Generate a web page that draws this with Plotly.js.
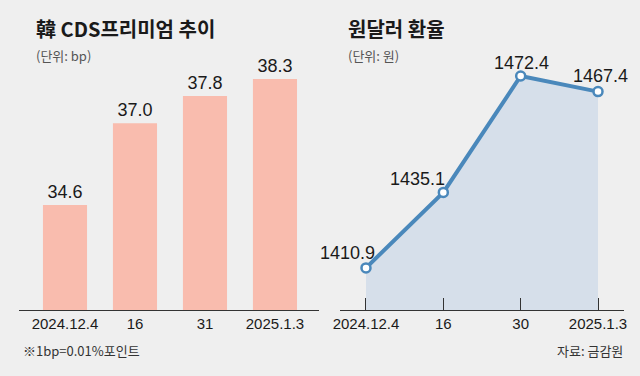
<!DOCTYPE html>
<html>
<head>
<meta charset="utf-8">
<script src="https://cdn.plot.ly/plotly-3.0.1.min.js"></script>
<style>
html,body{margin:0;padding:0;background:#efefef;}
#chart{width:640px;height:376px;}
</style>
</head>
<body>
<div id="chart"></div>
<script>
// Left chart: Korea CDS premium (bp)
const cdsDates = ["2024.12.4", "16", "31", "2025.1.3"];
const cdsValues = [34.6, 37.0, 37.8, 38.3];
const cdsLabels = ["34.6", "37.0", "37.8", "38.3"];

// Right chart: KRW/USD exchange rate (won)
const fxDates = ["2024.12.4", "16", "30", "2025.1.3"];
const fxValues = [1410.9, 1435.1, 1472.4, 1467.4];
const fxLabels = ["1410.9", "1435.1", "1472.4", "1467.4"];

const W = 640, H = 376;
const px = v => v / W;
const py = v => 1 - v / H;

const numFont = "'Liberation Sans', Arial, sans-serif";
const krFont = "'Noto Sans CJK KR', 'Noto Sans', sans-serif";

const barTrace = {
  type: "bar",
  x: cdsDates,
  y: cdsValues,
  text: cdsLabels,
  textposition: "outside",
  textfont: {family: numFont, size: 18, color: "#1a1a1a"},
  cliponaxis: false,
  marker: {color: "#f9bcae", line: {width: 0}},
  xaxis: "x", yaxis: "y",
  hoverinfo: "skip"
};

const lineTrace = {
  type: "scatter",
  mode: "lines+markers",
  x: fxDates,
  y: fxValues,
  fill: "tozeroy",
  fillcolor: "#d6dfea",
  line: {color: "#4a88bb", width: 4},
  marker: {size: 9, color: "#ffffff", line: {color: "#4a88bb", width: 2.5}},
  cliponaxis: false,
  xaxis: "x2", yaxis: "y2",
  hoverinfo: "skip"
};

// label offsets (pixels) relative to each data point
const fxShift = [[-18, 15], [-26, 13], [1, 13], [2, 16]];
const fxAnnotations = fxValues.map((v, i) => ({
  xref: "x2", yref: "y2", x: i, y: v,
  text: fxLabels[i], showarrow: false,
  xshift: fxShift[i][0], yshift: fxShift[i][1],
  font: {family: numFont, size: 18, color: "#1a1a1a"}
}));

const layout = {
  width: W, height: H,
  margin: {l: 0, r: 0, t: 0, b: 0},
  paper_bgcolor: "#efefef",
  plot_bgcolor: "rgba(0,0,0,0)",
  showlegend: false,
  bargap: 0.37,
  xaxis: {
    domain: [px(19), px(319)],
    type: "category",
    range: [-0.657, 3.629],
    showgrid: false, zeroline: false,
    showline: true, linecolor: "#333", linewidth: 1,
    ticks: "",
    tickfont: {family: numFont, size: 15, color: "#1a1a1a"},
    anchor: "y", fixedrange: true
  },
  yaxis: {
    domain: [py(310), py(40)],
    range: [31.514, 31.514 + 270 / 34.05],
    showgrid: false, zeroline: false, showline: false,
    showticklabels: false, ticks: "",
    anchor: "x", fixedrange: true
  },
  xaxis2: {
    domain: [px(340), px(624)],
    type: "category",
    range: [-0.336, 3.336],
    showgrid: false, zeroline: false,
    showline: true, linecolor: "#333", linewidth: 1,
    ticks: "inside", ticklen: 12, tickcolor: "#333", tickwidth: 1,
    tickfont: {family: numFont, size: 15, color: "#1a1a1a"},
    anchor: "y2", fixedrange: true
  },
  yaxis2: {
    domain: [py(310), py(40)],
    range: [1397.4, 1397.4 + 270 / 3.12],
    showgrid: false, zeroline: false, showline: false,
    showticklabels: false, ticks: "",
    anchor: "x2", fixedrange: true
  },
  annotations: [
    {xref: "paper", yref: "paper", x: px(34), y: py(28), xanchor: "left", yanchor: "middle",
     text: "<b>韓 CDS프리미엄 추이</b>", showarrow: false,
     font: {family: krFont, size: 20, color: "#1a1a1a"}},
    {xref: "paper", yref: "paper", x: px(34), y: py(55), xanchor: "left", yanchor: "middle",
     text: "(단위: bp)", showarrow: false,
     font: {family: krFont, size: 13, color: "#555"}},
    {xref: "paper", yref: "paper", x: px(346), y: py(28), xanchor: "left", yanchor: "middle",
     text: "<b>원달러 환율</b>", showarrow: false,
     font: {family: krFont, size: 20, color: "#1a1a1a"}},
    {xref: "paper", yref: "paper", x: px(346), y: py(55), xanchor: "left", yanchor: "middle",
     text: "(단위: 원)", showarrow: false,
     font: {family: krFont, size: 13, color: "#555"}},
    {xref: "paper", yref: "paper", x: px(21), y: py(350), xanchor: "left", yanchor: "middle",
     text: "※1bp=0.01%포인트", showarrow: false,
     font: {family: krFont, size: 13, color: "#333"}},
    {xref: "paper", yref: "paper", x: px(625), y: py(350), xanchor: "right", yanchor: "middle",
     text: "자료: 금감원", showarrow: false,
     font: {family: krFont, size: 13, color: "#333"}}
  ].concat(fxAnnotations)
};

Plotly.newPlot("chart", [barTrace, lineTrace], layout, {displayModeBar: false, staticPlot: true});
</script>
</body>
</html>
